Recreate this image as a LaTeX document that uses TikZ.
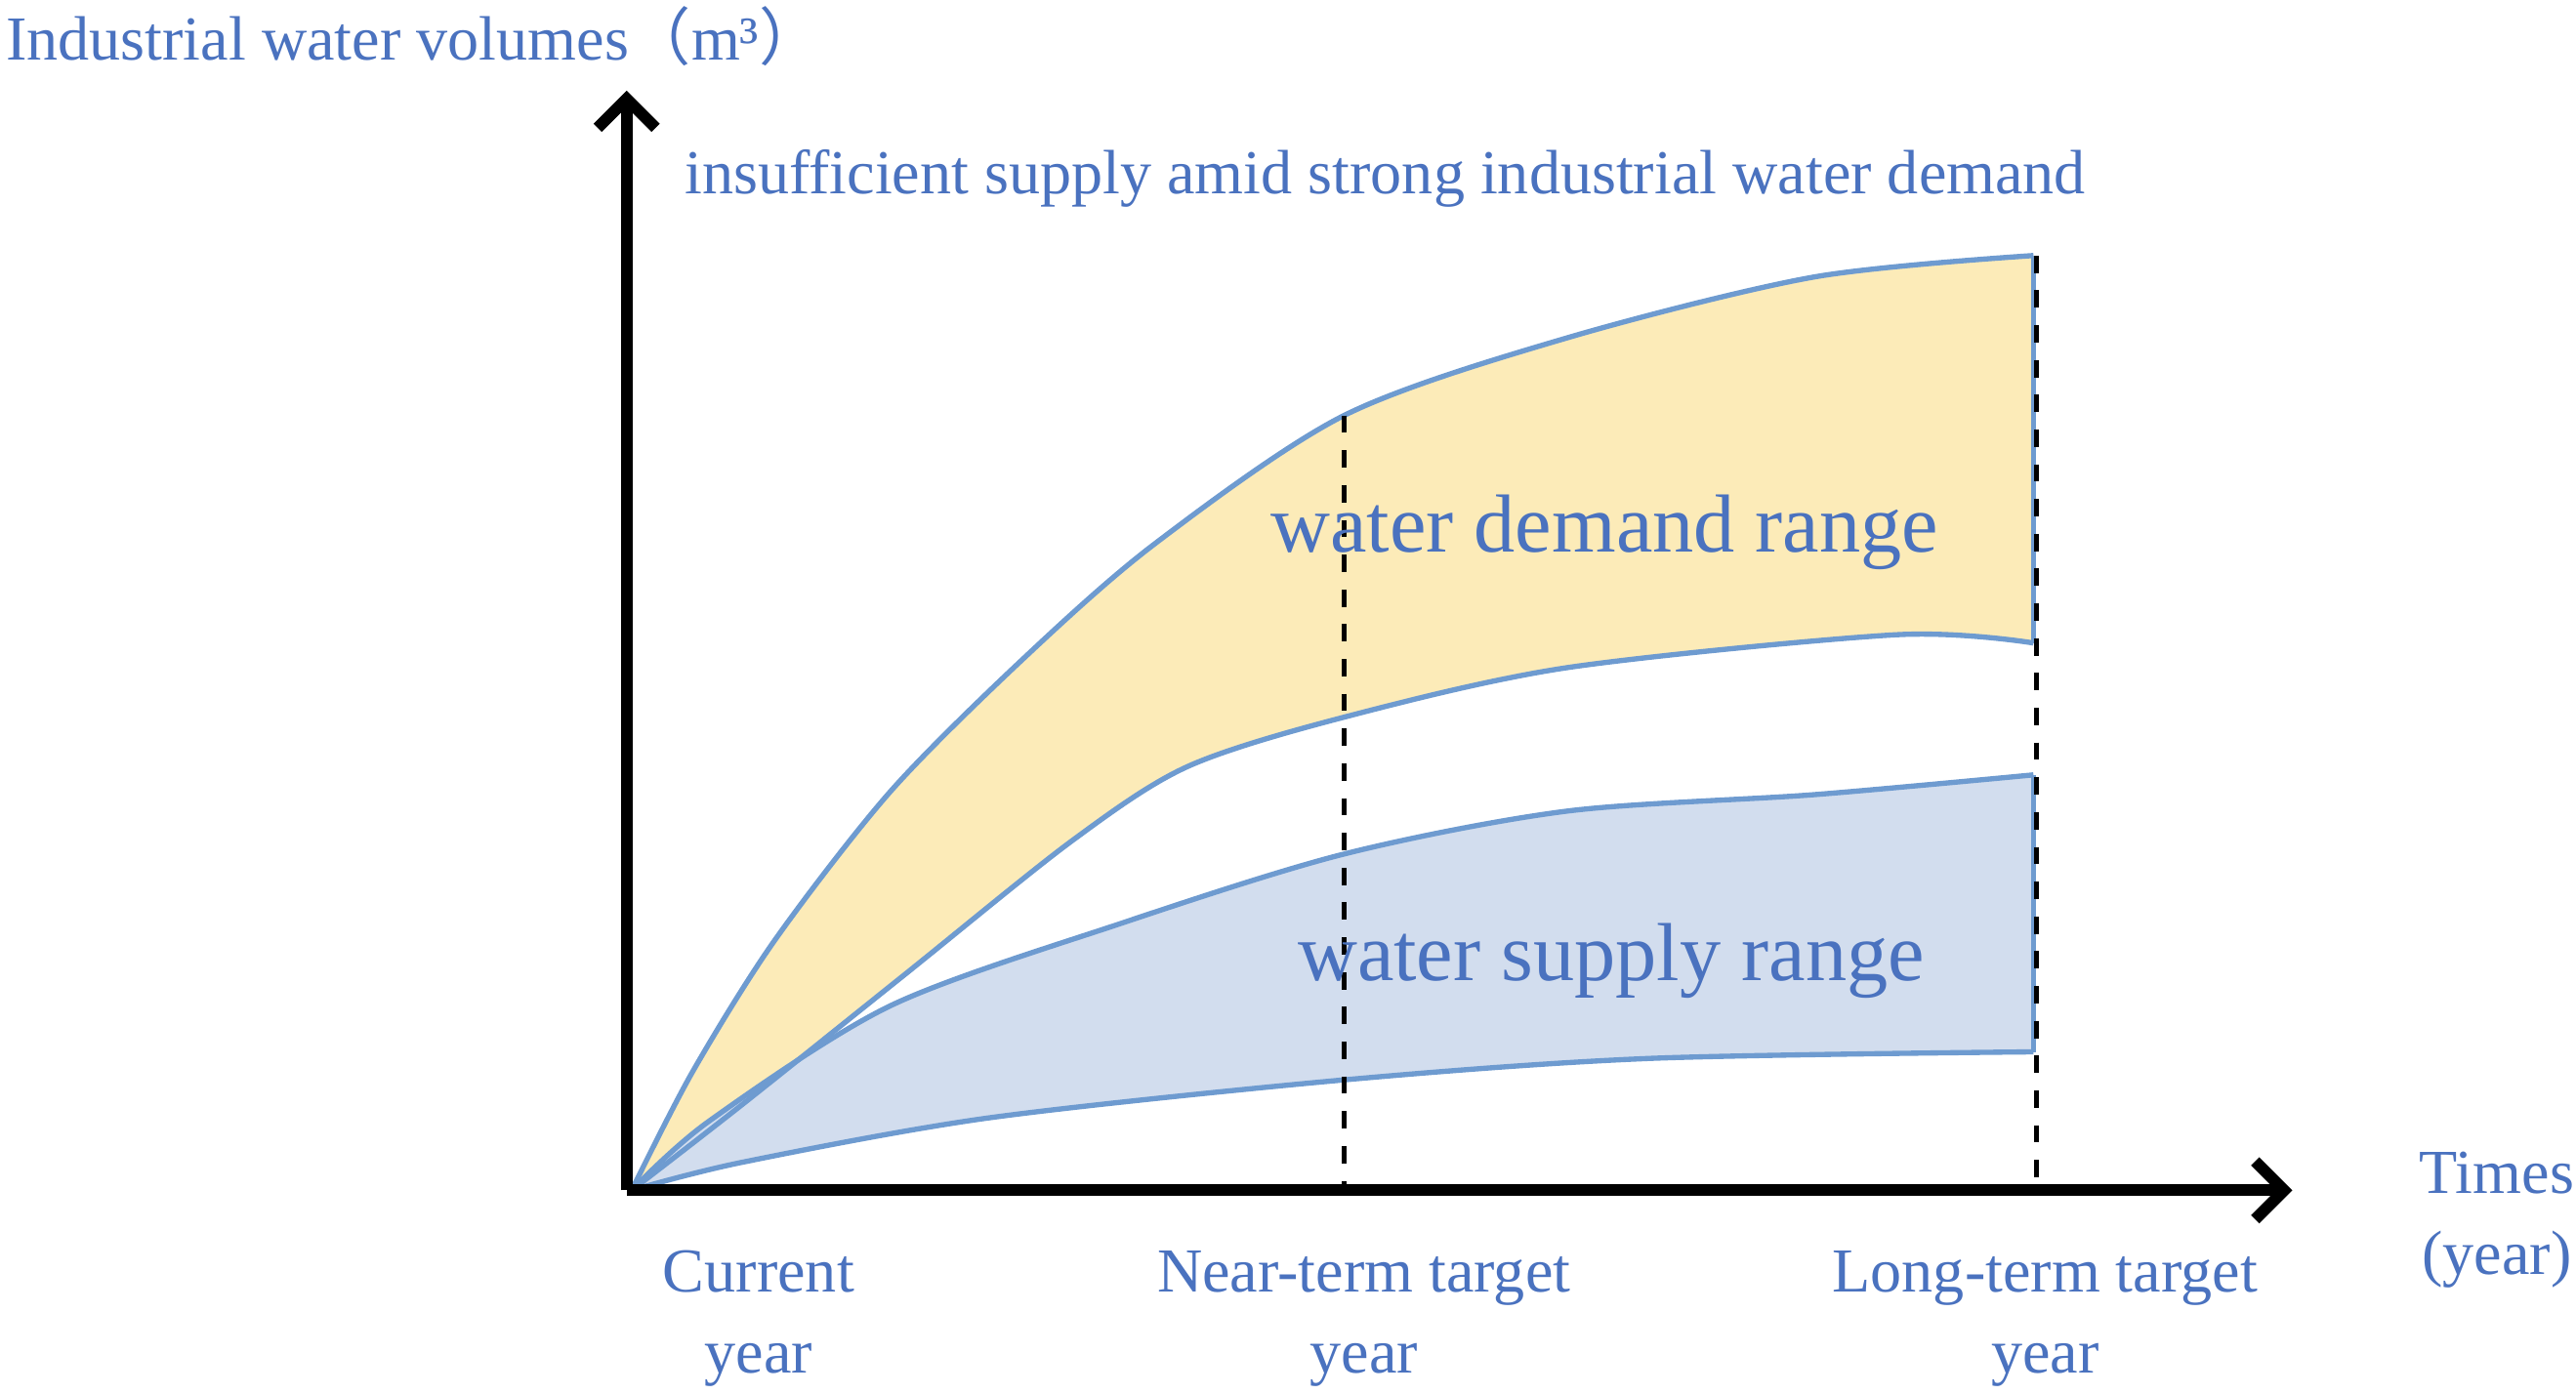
\documentclass[tikz,border=0pt]{standalone}
\usetikzlibrary{arrows.meta}
\usepackage{fontspec}
\setmainfont{Liberation Serif}
\newfontfamily\cjk{Noto Sans CJK SC}
\begin{document}
\begin{tikzpicture}[x=0.01cm,y=-0.01cm,
  lbl/.style={text=txt,font=\fontsize{10.8}{14}\selectfont,align=center,inner sep=0pt},
  big/.style={text=txt,font=\fontsize{14.2}{17}\selectfont,inner sep=0pt},
  curve/.style={draw=ln,line width=0.9pt},
  guide/.style={dashed,line width=0.9pt,black}]
\definecolor{txt}{HTML}{4A72BF}
\definecolor{ln}{HTML}{6E9BD0}
\definecolor{dem}{HTML}{FCEBB8}
\definecolor{sup}{HTML}{D2DDEE}
\useasboundingbox (0,0) rectangle (1562,845);
\def\demup{(383,722)(420,650)(470,570)(540,480)(620,400)(700,330)(815,252)(950,205)(1100,168)(1233,155)}
\fill[dem] plot[smooth] coordinates {(383,722)(420,650)(470,570)(540,480)(620,400)(700,330)(815,252)(950,205)(1100,168)(1233,155)}
  -- plot[smooth] coordinates {(1233,390)(1150,385)(950,405)(815,435)(720,465)(650,510)(550,590)(450,670)(383,722)} -- cycle;
\fill[sup] plot[smooth] coordinates {(383,722)(430,680)(540,610)(680,560)(815,518)(950,492)(1100,482)(1233,470)}
  -- plot[smooth] coordinates {(1233,638)(1000,642)(815,655)(600,678)(450,705)(383,722)} -- cycle;
\draw[curve] plot[smooth] coordinates {(383,722)(420,650)(470,570)(540,480)(620,400)(700,330)(815,252)(950,205)(1100,168)(1233,155)};
\draw[curve] plot[smooth] coordinates {(383,722)(450,670)(550,590)(650,510)(720,465)(815,435)(950,405)(1150,385)(1233,390)};
\draw[curve] plot[smooth] coordinates {(383,722)(430,680)(540,610)(680,560)(815,518)(950,492)(1100,482)(1233,470)};
\draw[curve] plot[smooth] coordinates {(383,722)(450,705)(600,678)(815,655)(1000,642)(1233,638)};
\draw[curve] (1233,155) -- (1233,390);
\draw[curve] (1233,470) -- (1233,638);
\coordinate (n1) at (815,252); \coordinate (n0) at (815,722);
\coordinate (l1) at (1235,155); \coordinate (l0) at (1235,722);
\draw[guide] (n1) -- (n0);
\draw[guide] (l1) -- (l0);
\coordinate (o) at (380,722); \coordinate (yt) at (380,55); \coordinate (xr) at (1390,722);
\draw[line width=2pt,-{Straight Barb[length=5pt,width=10pt]}] (o) -- (yt);
\draw[line width=2pt,-{Straight Barb[length=5pt,width=10pt]}] (o) -- (xr);
\node[lbl,anchor=west] (ttl) at (3,22) {Industrial water volumes{\cjk （}m³{\cjk ）}};
\node[lbl] (ins) at (840,108) {insufficient supply amid strong industrial water demand};
\node[big] (dr) at (973,323) {water demand range};
\node[big] (sr) at (977,583) {water supply range};
\node[lbl] (tm) at (1514,740) {Times\\(year)};
\node[lbl] (cy) at (460,800) {Current\\year};
\node[lbl] (ny) at (827,800) {Near-term target\\year};
\node[lbl] (ly) at (1240,800) {Long-term target\\year};
\end{tikzpicture}
\end{document}
